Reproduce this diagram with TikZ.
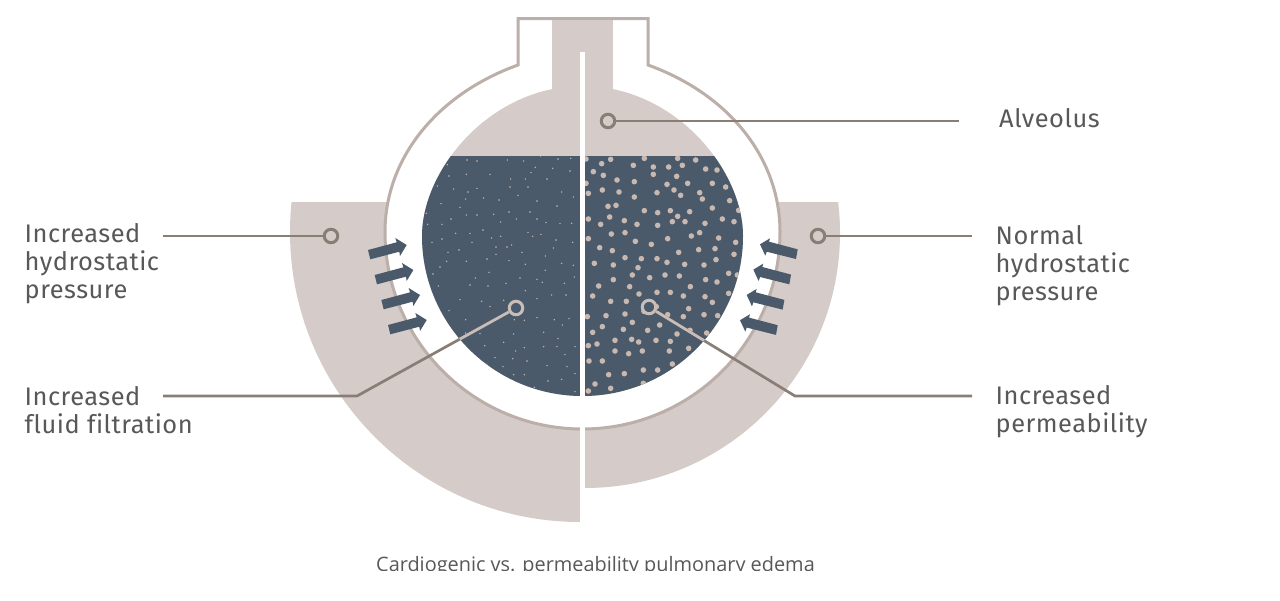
\documentclass[tikz,border=0pt]{standalone}
\usepackage{fontspec}
\setmainfont{Liberation Sans}
\newfontfamily\labelfont[LetterSpace=2,Ligatures=NoCommon]{Fira Sans}
\newfontfamily\captionfont{Open Sans}
\definecolor{bandc}{HTML}{D5CBC9}
\definecolor{ringc}{HTML}{BCAEA8}
\definecolor{darkc}{HTML}{4A5A6B}
\definecolor{leadc}{HTML}{8A7D76}
\definecolor{lightc}{HTML}{C9BDB8}
\definecolor{textc}{HTML}{58585A}
\definecolor{spotc}{HTML}{C9B8B0}
\tikzset{
  lbl/.style={font=\labelfont\fontsize{25.4}{28}\selectfont, text=textc, align=left, inner sep=0pt, anchor=base west},
  leader/.style={draw=leadc, line width=2.7pt},
  leaderlight/.style={draw=lightc, line width=2.7pt},
  marker/.style={circle, draw=leadc, line width=3pt, minimum size=13.5pt, inner sep=0pt},
  markerlight/.style={circle, draw=lightc, fill=darkc, line width=3pt, minimum size=13.5pt, inner sep=0pt},
  flowarrow/.style={fill=darkc},
}
% Lung unit outline: wall, neck and lower round half
\def\wallpath{(385,232) .. controls (385,160) and (435,95) .. (518,65) -- (518,18.5) -- (648,18.5) -- (648,65)
  .. controls (731,95) and (780,160) .. (780,232)
  .. controls (780,340.8) and (691.3,429) .. (582.5,429)
  .. controls (473.7,429) and (385,340.8) .. (385,232) -- cycle}
% Alveolar sac outline
\def\sacpath{(422,236) .. controls (422,170) and (490,86) .. (582.5,86)
  .. controls (675,86) and (743,170) .. (743,236)
  .. controls (743,324.4) and (671,396) .. (582.5,396)
  .. controls (494,396) and (422,324.4) .. (422,236) -- cycle}
\begin{document}
\begin{tikzpicture}[x=1pt,y=-1pt]
\useasboundingbox (0,0) rectangle (1280,600);
\fill[white] (0,0) rectangle (1280,600);
% interstitial bands
\begin{scope}
  \clip (0,202) rectangle (580,600);
  \fill[bandc] (580,232) circle[radius=290pt];
\end{scope}
\begin{scope}
  \clip (585,202) rectangle (1280,600);
  \fill[bandc] (585,233) circle[radius=255pt];
\end{scope}
% wall
\draw[ringc, line width=3pt, fill=white, line join=miter] \wallpath;
% neck and air space
\fill[bandc] (552,20) rectangle (613,100);
\fill[bandc] \sacpath;
% fluid level
\begin{scope}
  \clip \sacpath;
  \fill[darkc] (400,156) rectangle (760,400);
  \begin{scope}
    \clip (400,156) rectangle (760,400);
    % fine particles, left half
    \foreach \x/\y in {141/30,171/33,262/30,311/33,82/44,346/52,398/55,414/27,452/25,450/63,333/68,87/78,139/73,210/73,272/87,316/87,381/87,362/18}
      \fill[spotc] ({420+\x/3},{150+\y/3}) circle[radius=0.8pt];
    \foreach \x/\y in {292/18,341/27,384/36,411/25,510/21,564/21,665/36,700/51,534/46,377/57,431/54,477/60,591/63,303/71,360/82,651/78,259/100,379/105,411/105,461/103,507/96,570/96,333/117,591/117,482/126,529/117,618/128,660/131,695/130,263/133,306/133,429/150,347/160,390/160,455/174,482/169,564/157,578/169,603/163,648/180,698/187,276/187,306/177,396/187,468/201,501/201,515/195,640/204,324/217,357/210,468/223,546/217,616/228,320/244,379/244,441/237,507/242,556/253,665/250,700/256,300/261,616/271,279/282,447/277,406/294,540/294,591/298,607/307,703/291,295/318,390/315,444/318,498/310,673/310,556/332,635/345,678/345,360/359,425/364,491/361,591/356,450/380,327/392,377/419,523/419,553/421,591/413,643/419,687/416,667/435,324/435,377/459,420/461,521/462,611/457,654/476,434/497,491/487,553/503,611/500,651/500,705/500,527/513,675/524,465/533,518/536,561/543,440/553,489/560,621/557,681/560,521/584,553/584,705/581,624/603,665/598,583/622,705/635}
      \fill[spotc] ({340+\x/3},{180+\y/3}) circle[radius=0.8pt];
    % coarse particles, right half
    \foreach \x/\y in {18/27,65/41,92/28,160/46,193/25,220/51,266/51,293/25,307/46,347/30,377/57,411/60,40/65,70/76,111/90,163/95,220/73,290/79,323/100,397/100,437/111,261/103,18/100,25/130,67/120,117/126,163/141,231/128,282/120,302/136,359/128,367/147,449/152,84/169,108/166,193/182,233/188,271/182,329/185,397/174,476/181,25/207,89/201,133/212,62/223,171/223,233/226,277/215,293/199,315/215,375/220,427/207,462/215,25/266,94/252,135/248,166/274,214/283,263/266,334/258,359/248,416/264,467/277,59/293,97/302,296/307,356/299,405/296,462/313,43/340,100/345,135/323,184/326,231/326,261/337,314/343,372/345,408/329,174/353,157/375,209/383,255/375,298/378,100/389,377/389,411/396,446/370,472/375,56/408,149/410,331/410,38/438,177/432,231/427,271/427,310/438,375/440,446/430,92/454,139/454,397/457,229/470,192/484,326/476,135/492,78/497,22/500,263/494,310/500,372/494,413/497,67/530,157/517,239/525,130/538,203/541,38/547,291/552,330/541,380/549,105/571,155/568,176/576,228/571,271/574,51/582,25/587,105/603,146/611,187/603,268/603,326/595,27/633,67/633,277/642,86/674,133/671,190/660,233/660,45/702,92/715,190/700,25/723}
      \fill[spotc] ({580+\x/3},{150+\y/3}) circle[radius=2.8pt];
  \end{scope}
\end{scope}
% central divide
\fill[white] (580,52) rectangle (585.2,530);
% pressure arrows
\foreach \i in {0,1,2,3} {
  \begin{scope}[shift={({6.67*\i},{25*\i})}]
    \fill[flowarrow] (368,250) -- (396.7,242.3) -- (395.3,238) -- (406.7,245) -- (400,256) -- (399.3,251.7) -- (370.3,259.3) -- cycle;
  \end{scope}
  \begin{scope}[shift={({-6.67*\i},{25.3*\i})}]
    \fill[flowarrow] (797.7,249.3) -- (769,241.7) -- (770,238.3) -- (760,244.3) -- (765.3,255.7) -- (766.7,251.7) -- (796,259) -- cycle;
  \end{scope}
}
% labels
\node[lbl] (hyinc) at (24.5,298.8) {Increased\\hydrostatic\\pressure};
\node[lbl] (filt) at (24.5,433.5) {Increased\\fluid filtration};
\node[lbl] (alv) at (999,127) {Alveolus};
\node[lbl] (hynorm) at (995.5,300) {Normal\\hydrostatic\\pressure};
\node[lbl] (perm) at (995.5,432.5) {Increased\\permeability};
% caption, cut off along the lower edge of its strip
\begin{scope}
  \clip (300,540) rectangle (900,570.7);
  \node[font=\captionfont\fontsize{19.9}{24}\selectfont, text=textc, inner sep=0pt, anchor=base west] (cap) at (376,571) {Cardiogenic vs. permeability pulmonary edema};
\end{scope}
% markers and leader lines
\node[marker] (mA) at (608,121) {};
\node[marker] (mB) at (331,236) {};
\node[marker] (mC) at (818,236) {};
\node[markerlight] (mD) at (516,308) {};
\node[markerlight] (mE) at (649,307) {};
\coordinate (eA) at (959,121);
\coordinate (eB) at (163,236);
\coordinate (eC) at (972,236);
\coordinate (eD) at (163,396);
\coordinate (kD) at (357,396);
\coordinate (eE) at (972,396);
\coordinate (kE) at (795,396);
\draw[leader] (mA) -- (eA);
\draw[leader] (mB) -- (eB);
\draw[leader] (mC) -- (eC);
\draw[leader, line join=bevel] (mD) -- (kD) -- (eD);
\draw[leader, line join=bevel] (mE) -- (kE) -- (eE);
\begin{scope}
  \clip \sacpath;
  \draw[leaderlight] (mD) -- (kD);
  \draw[leaderlight] (mE) -- (kE);
\end{scope}
\end{tikzpicture}
\end{document}
